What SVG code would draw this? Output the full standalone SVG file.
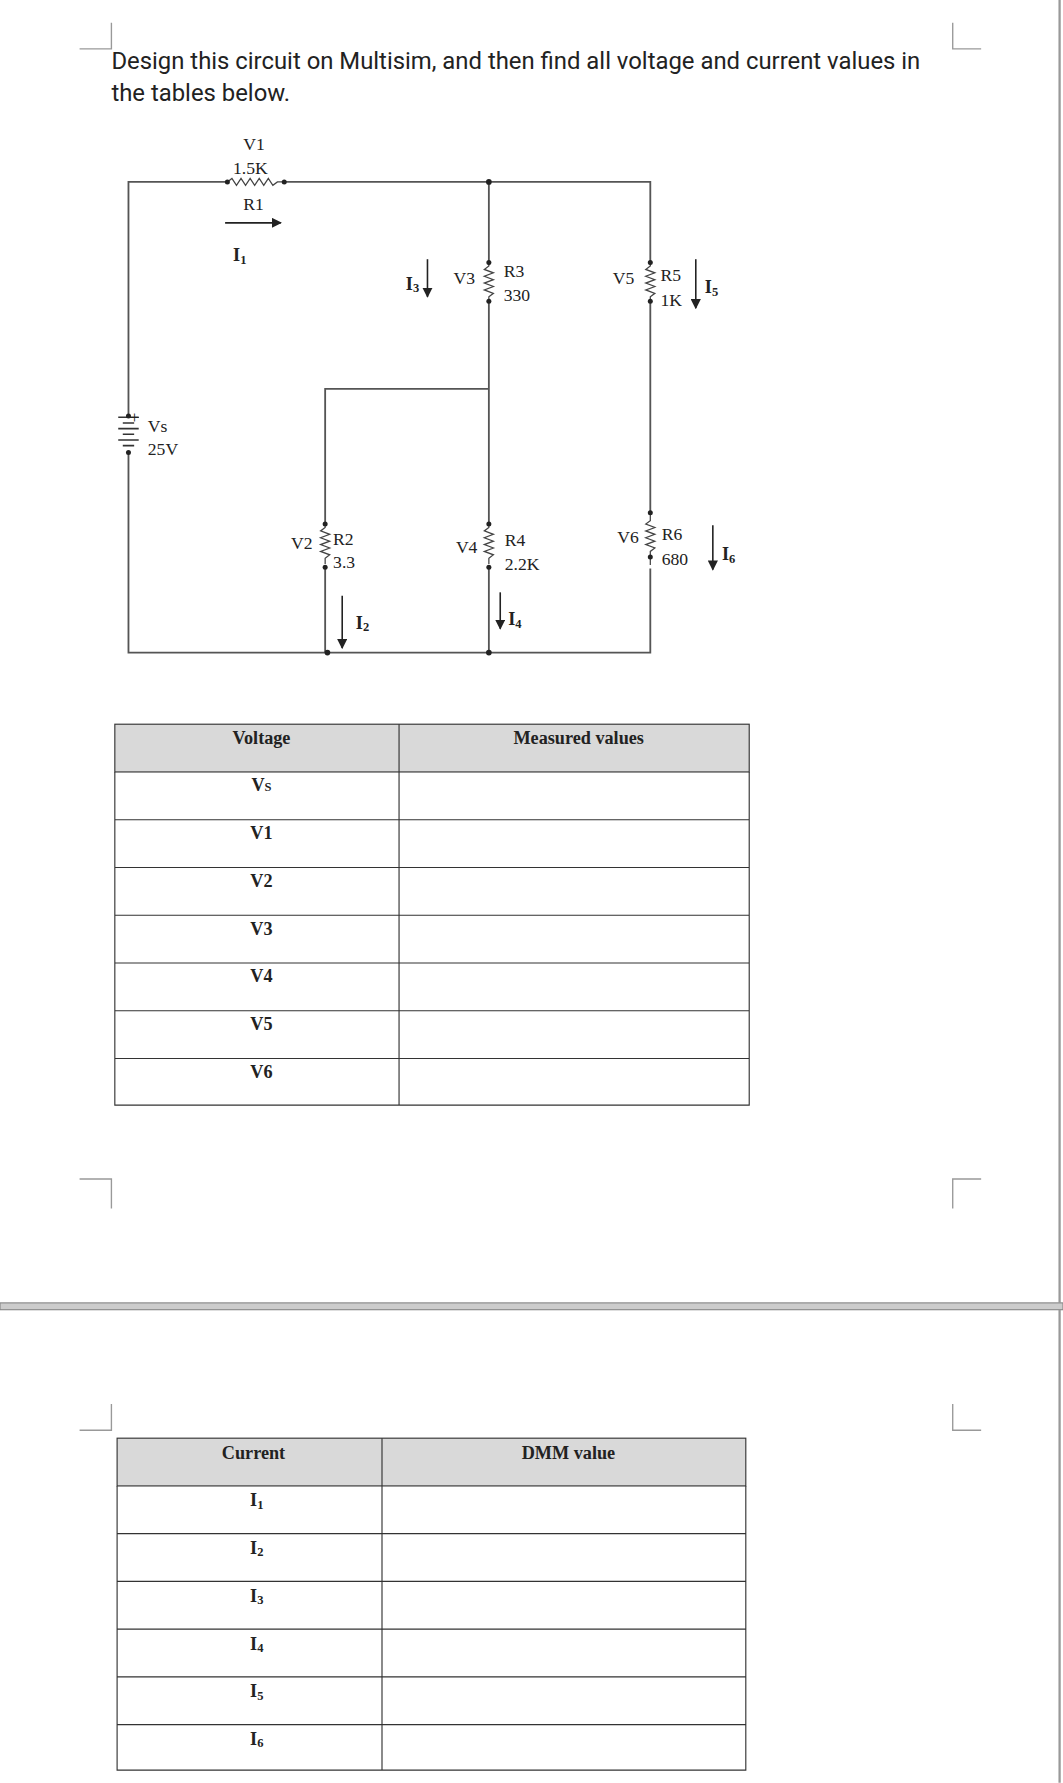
<svg xmlns="http://www.w3.org/2000/svg" width="1063" height="1783" viewBox="0 0 1063 1783">
<style>
.w{stroke:#555;stroke-width:1.6;fill:none}
.r{stroke:#444;stroke-width:1.1;fill:none}
.m{stroke:#999;stroke-width:1.2;fill:none}
.t{font-family:"Liberation Serif",serif;font-size:15.5px;fill:#222}
.b{font-family:"Liberation Serif",serif;font-size:16px;font-weight:bold;fill:#222}
.h{font-family:Roboto,"Liberation Sans",sans-serif;font-size:21px;fill:#222}
.c{stroke:#333;stroke-width:1;fill:none}
.hd{fill:#d9d9d9;stroke:#333;stroke-width:1}
</style>
<defs>
<marker id="ar" markerWidth="9" markerHeight="9" refX="8" refY="4.5" orient="auto" markerUnits="userSpaceOnUse"><path d="M0,0L9,4.5L0,9z" fill="#222"/></marker>
</defs>
<rect width="1063" height="1783" fill="#fff"/>
<g transform="scale(1.1369)">
<g id="marks">
<path class="m" d="M98,20V43H70M838,20V43H863M70,1037H98V1063M863,1037H838V1063M98,1235V1258H70M838,1235V1258H863"/>
<rect x="0" y="1146" width="935" height="6" fill="#ccc" stroke="#888" stroke-width="1"/>
<path d="M932,0V1146M932,1152V1568" stroke="#999" stroke-width="2"/>
</g>
<text class="h" x="98" y="61">Design this circuit on Multisim, and then find all voltage and current values in</text>
<text class="h" x="98" y="89">the tables below.</text>
<g id="connectors">
<path class="w" d="M200,160H113V365M113,398V574H572V500M250,160H572V230M430,160V230M430,265V460M430,500V574M572,265V450M430,342H286V460M286,500V574"/>
<path class="r" d="M200,160l4,-3l4,6l4,-6l4,6l4,-6l4,6l4,-6l4,6l4,-6l4,6l4,-3h6"/>
</g>
<g id="R3"><path class="r" d="M430,230v4l-4,3l8,3l-8,3l8,3l-8,3l8,3l-8,3l8,3l-4,3v5"/><circle cx="430" cy="231" r="2.2" fill="#222"/><circle cx="430" cy="265" r="2.2" fill="#222"/>
<text class="t" x="399" y="250">V3</text><text class="t" x="443" y="244">R3</text><text class="t" x="443" y="265">330</text></g>
<g id="R5"><path class="r" d="M572,230v4l-4,3l8,3l-8,3l8,3l-8,3l8,3l-8,3l8,3l-4,3v5"/><circle cx="572" cy="231" r="2.2" fill="#222"/><circle cx="572" cy="265" r="2.2" fill="#222"/>
<text class="t" x="539" y="250">V5</text><text class="t" x="581" y="247">R5</text><text class="t" x="581" y="269">1K</text></g>
<g id="R2"><path class="r" d="M286,460v4l-4,3l8,3l-8,3l8,3l-8,3l8,3l-8,3l8,3l-4,3v5"/><circle cx="286" cy="461" r="2.2" fill="#222"/><circle cx="286" cy="499" r="2.2" fill="#222"/>
<text class="t" x="256" y="483">V2</text><text class="t" x="293" y="479">R2</text><text class="t" x="293" y="500">3.3</text></g>
<g id="R4"><path class="r" d="M430,460v4l-4,3l8,3l-8,3l8,3l-8,3l8,3l-8,3l8,3l-4,3v5"/><circle cx="430" cy="461" r="2.2" fill="#222"/><circle cx="430" cy="499" r="2.2" fill="#222"/>
<text class="t" x="401" y="486">V4</text><text class="t" x="444" y="480">R4</text><text class="t" x="444" y="501">2.2K</text></g>
<g id="R6"><path class="r" d="M572,450v8l-4,3l8,3l-8,3l8,3l-8,3l8,3l-8,3l8,3l-4,3v12"/><circle cx="572" cy="451" r="2.2" fill="#222"/><circle cx="572" cy="490" r="2.2" fill="#222"/>
<text class="t" x="543" y="478">V6</text><text class="t" x="582" y="475">R6</text><text class="t" x="582" y="497">680</text></g>
<g id="R1"><circle cx="200" cy="160" r="2.2" fill="#222"/><circle cx="250" cy="160" r="2.2" fill="#222"/>
<text class="t" x="214" y="132">V1</text><text class="t" x="205" y="153">1.5K</text><text class="t" x="214" y="185">R1</text></g>
<g id="Vs"><path d="M104,367h18M108,372h10M104,377h18M108,382h10M104,387h18M108,392h10" stroke="#333" stroke-width="1.4"/>
<circle cx="113" cy="366" r="2.2" fill="#222"/><circle cx="113" cy="398" r="2.2" fill="#222"/>
<text class="t" x="114" y="372" font-size="10">+</text>
<text class="t" x="130" y="380">Vs</text><text class="t" x="130" y="400">25V</text></g>
<g id="junctions"><circle cx="430" cy="160" r="2.5" fill="#222"/><circle cx="288" cy="574" r="2.5" fill="#222"/><circle cx="430" cy="574" r="2.5" fill="#222"/></g>
<g id="currents" fill="none" stroke="#222" stroke-width="1.4">
<path d="M198,196H247" marker-end="url(#ar)"/>
<path d="M376,228V261" marker-end="url(#ar)"/>
<path d="M612,228V271" marker-end="url(#ar)"/>
<path d="M627,462V501" marker-end="url(#ar)"/>
<path d="M301,524V570" marker-end="url(#ar)"/>
<path d="M440,521V553" marker-end="url(#ar)"/>
</g>
<g id="curlabels">
<text class="b" x="205" y="230">I<tspan font-size="11" dy="2">1</tspan></text>
<text class="b" x="357" y="255">I<tspan font-size="11" dy="2">3</tspan></text>
<text class="b" x="620" y="258">I<tspan font-size="11" dy="2">5</tspan></text>
<text class="b" x="635" y="493">I<tspan font-size="11" dy="2">6</tspan></text>
<text class="b" x="313" y="553">I<tspan font-size="11" dy="2">2</tspan></text>
<text class="b" x="447" y="550">I<tspan font-size="11" dy="2">4</tspan></text>
</g>
<g id="table1">
<rect class="hd" x="101" y="637" width="558" height="42"/>
<path class="c" d="M101,679V972H659V679M351,637V972M101,721H659M101,763H659M101,805H659M101,847H659M101,889H659M101,931H659"/>
<text class="b" x="230" y="654" text-anchor="middle">Voltage</text>
<text class="b" x="509" y="654" text-anchor="middle">Measured values</text>
<text class="b" x="230" y="696" text-anchor="middle">V<tspan font-size="11">S</tspan></text>
<text class="b" x="230" y="738" text-anchor="middle">V1</text>
<text class="b" x="230" y="780" text-anchor="middle">V2</text>
<text class="b" x="230" y="822" text-anchor="middle">V3</text>
<text class="b" x="230" y="864" text-anchor="middle">V4</text>
<text class="b" x="230" y="906" text-anchor="middle">V5</text>
<text class="b" x="230" y="948" text-anchor="middle">V6</text>
</g>
<g id="table2">
<rect class="hd" x="103" y="1265" width="553" height="42"/>
<path class="c" d="M103,1307V1557H656V1307M336,1265V1557M103,1349H656M103,1391H656M103,1433H656M103,1475H656M103,1517H656"/>
<text class="b" x="223" y="1283" text-anchor="middle">Current</text>
<text class="b" x="500" y="1283" text-anchor="middle">DMM value</text>
<text class="b" x="220" y="1325">I<tspan font-size="11" dy="2">1</tspan></text>
<text class="b" x="220" y="1367">I<tspan font-size="11" dy="2">2</tspan></text>
<text class="b" x="220" y="1409">I<tspan font-size="11" dy="2">3</tspan></text>
<text class="b" x="220" y="1451">I<tspan font-size="11" dy="2">4</tspan></text>
<text class="b" x="220" y="1493">I<tspan font-size="11" dy="2">5</tspan></text>
<text class="b" x="220" y="1535">I<tspan font-size="11" dy="2">6</tspan></text>
</g>
</g>
</svg>
